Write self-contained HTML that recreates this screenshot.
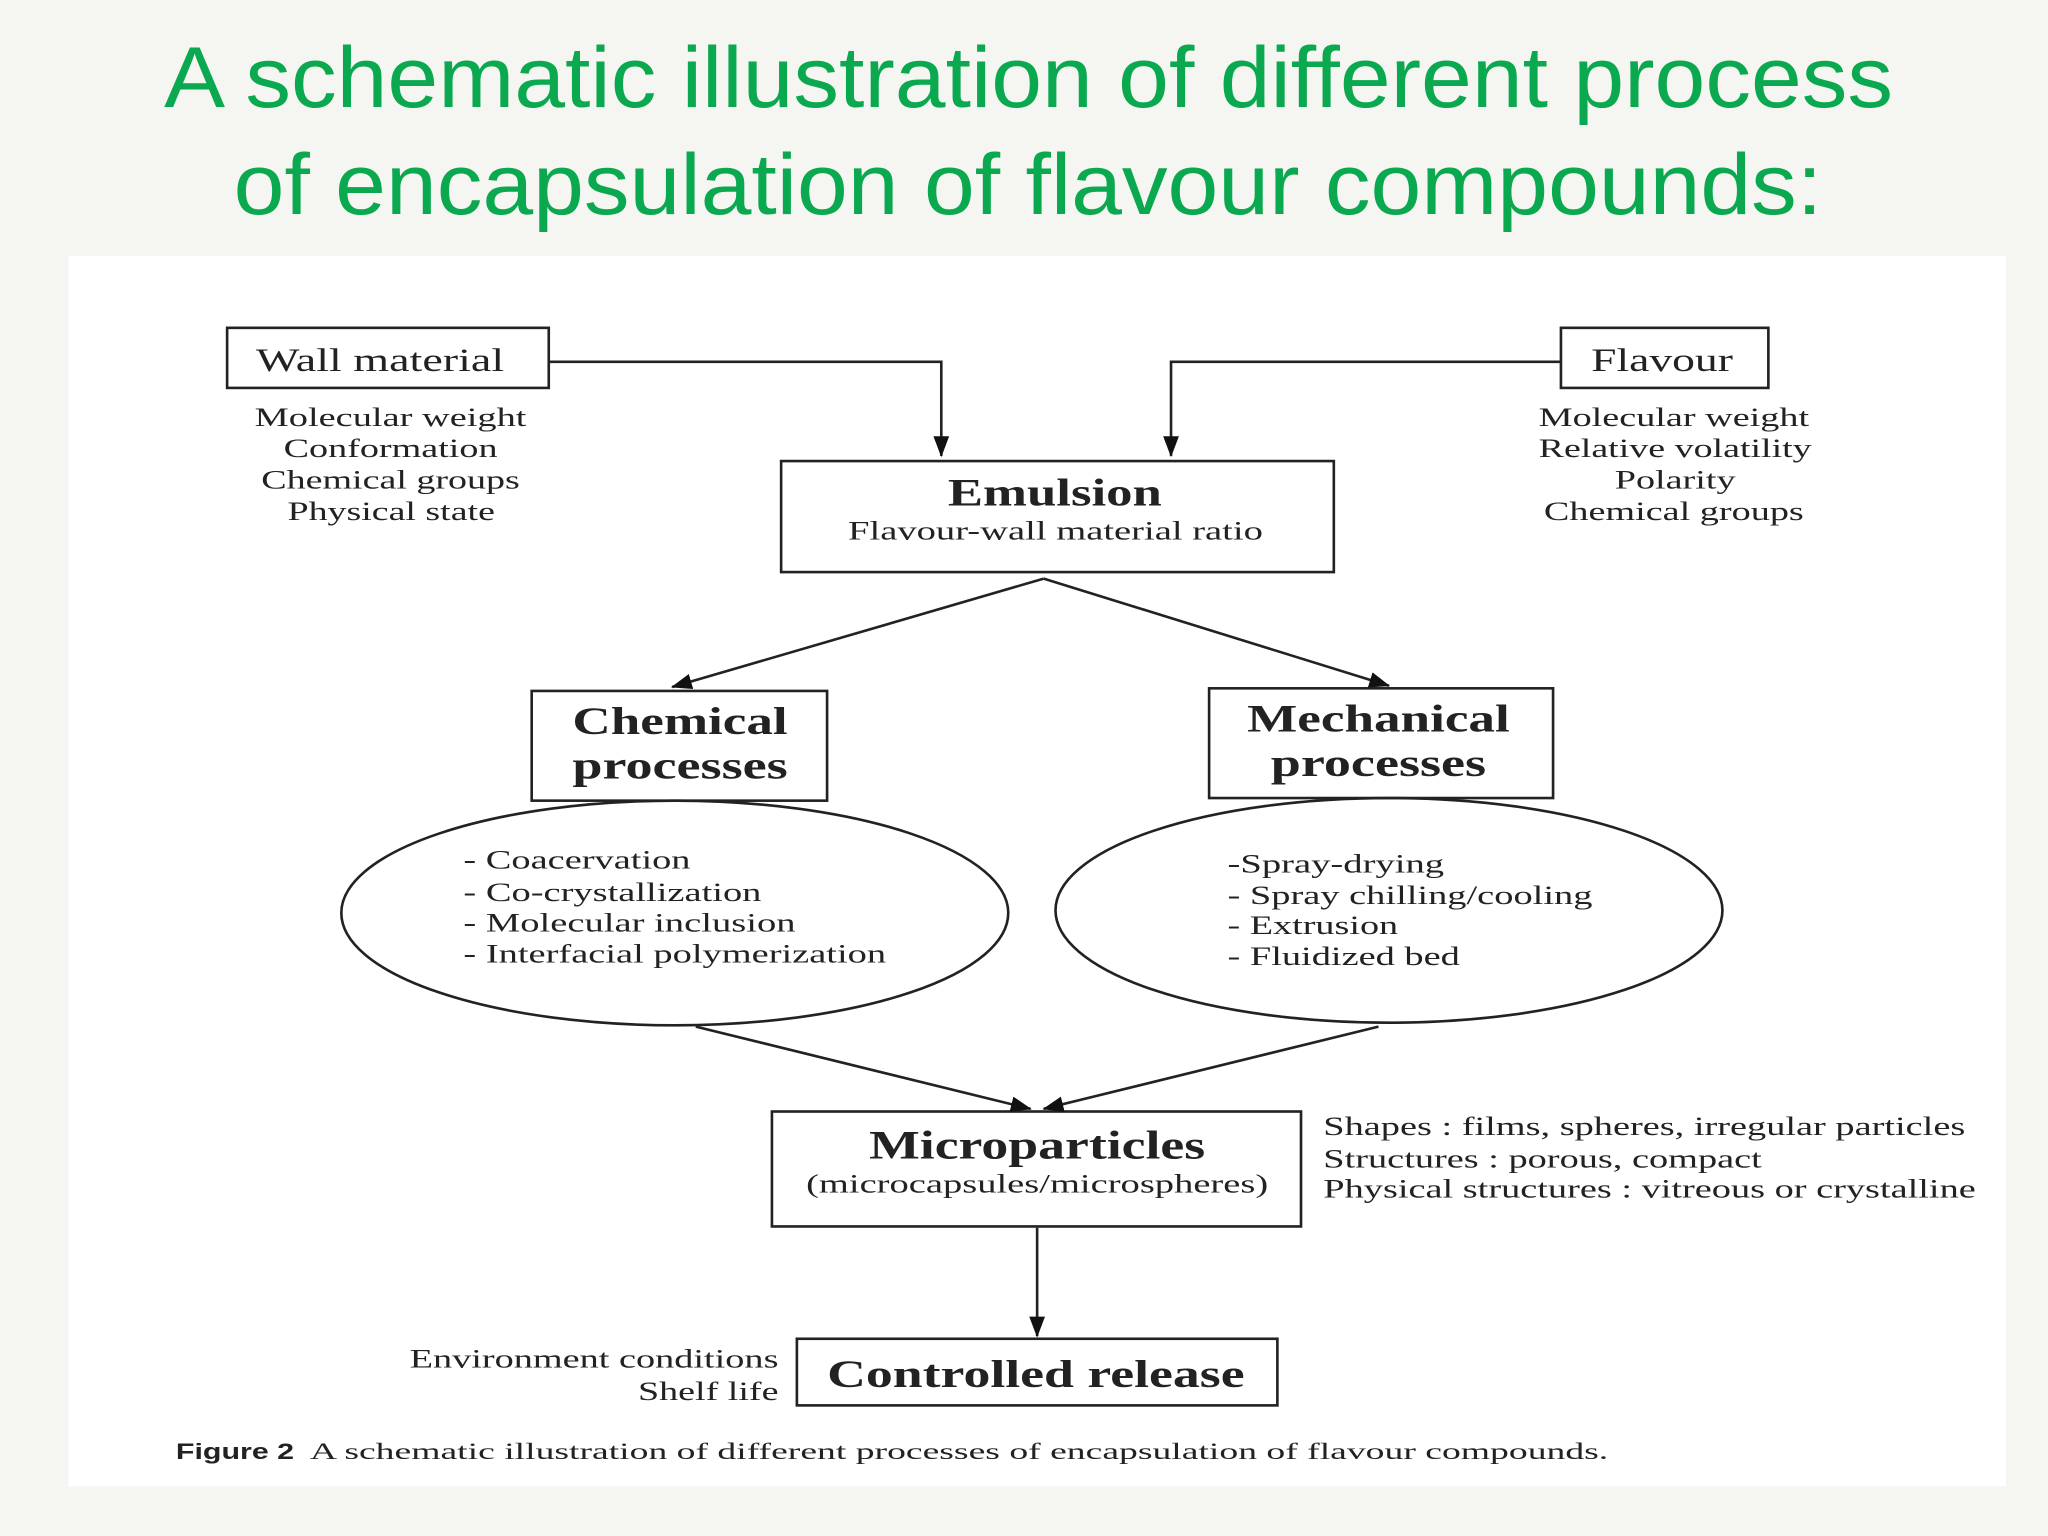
<!DOCTYPE html>
<html><head><meta charset="utf-8"><style>
html,body{margin:0;padding:0;background:#f5f5f2;}
svg{display:block;}
</style></head><body>
<svg width="2048" height="1536" viewBox="0 0 1560 1176" preserveAspectRatio="none" xmlns="http://www.w3.org/2000/svg">
<defs>
<marker id="b" viewBox="0 0 16 16" markerWidth="16" markerHeight="16" refX="15" refY="8" orient="auto" markerUnits="userSpaceOnUse"><path d="M0,2 L16,8 L0,14 z" fill="#111"/></marker></defs>
<rect width="1560" height="1176" fill="#f5f5f2"/>
<text x="125" y="82" textLength="1317" lengthAdjust="spacingAndGlyphs" font-family="Liberation Sans, sans-serif" font-size="66" fill="#0aa84f">A schematic illustration of different process</text>
<text x="178" y="164" textLength="1210" lengthAdjust="spacingAndGlyphs" font-family="Liberation Sans, sans-serif" font-size="66" fill="#0aa84f">of encapsulation of flavour compounds:</text>
<rect x="52" y="196" width="1476" height="942" fill="#fff"/>
<g font-family="Liberation Serif, serif" fill="#222" stroke="#222" stroke-width="2">
<g fill="none">
<rect x="173" y="251" width="245" height="46"/>
<rect x="1189" y="251" width="158" height="46"/>
<rect x="595" y="353" width="421" height="85"/>
<rect x="405" y="529" width="225" height="84"/>
<rect x="921" y="527" width="262" height="84"/>
<ellipse cx="514" cy="699" rx="254" ry="86"/>
<ellipse cx="1058" cy="697" rx="254" ry="86"/>
<rect x="588" y="851" width="403" height="88"/>
<rect x="607" y="1025" width="366" height="51"/>
<polyline points="418,277 717,277 717,349" marker-end="url(#b)"/>
<polyline points="1189,277 892,277 892,349" marker-end="url(#b)"/>
<line x1="795" y1="443" x2="512" y2="526" marker-end="url(#b)"/>
<line x1="795" y1="443" x2="1058" y2="525" marker-end="url(#b)"/>
<line x1="530" y1="786" x2="785" y2="849" marker-end="url(#b)"/>
<line x1="1050" y1="786" x2="795" y2="849" marker-end="url(#b)"/>
<line x1="790" y1="940" x2="790" y2="1023" marker-end="url(#b)"/>
</g>
<g stroke="none" lengthAdjust="spacingAndGlyphs">
<text x="195" y="284" font-size="25" textLength="189" lengthAdjust="spacingAndGlyphs">Wall material</text>
<text x="1212" y="284" font-size="25" textLength="108" lengthAdjust="spacingAndGlyphs">Flavour</text>
<text x="194" y="326" font-size="20" textLength="207" lengthAdjust="spacingAndGlyphs">Molecular weight</text>
<text x="216" y="350" font-size="20" textLength="163" lengthAdjust="spacingAndGlyphs">Conformation</text>
<text x="199" y="374" font-size="20" textLength="197" lengthAdjust="spacingAndGlyphs">Chemical groups</text>
<text x="219" y="398" font-size="20" textLength="158" lengthAdjust="spacingAndGlyphs">Physical state</text>
<text x="1172" y="326" font-size="20" textLength="206" lengthAdjust="spacingAndGlyphs">Molecular weight</text>
<text x="1172" y="350" font-size="20" textLength="208" lengthAdjust="spacingAndGlyphs">Relative volatility</text>
<text x="1230" y="374" font-size="20" textLength="92" lengthAdjust="spacingAndGlyphs">Polarity</text>
<text x="1176" y="398" font-size="20" textLength="198" lengthAdjust="spacingAndGlyphs">Chemical groups</text>
<text x="722" y="387" font-size="30" font-weight="bold" textLength="163" lengthAdjust="spacingAndGlyphs">Emulsion</text>
<text x="646" y="413" font-size="20" textLength="316" lengthAdjust="spacingAndGlyphs">Flavour-wall material ratio</text>
<text x="436" y="562" font-size="30" font-weight="bold" textLength="164" lengthAdjust="spacingAndGlyphs">Chemical</text>
<text x="436" y="596" font-size="30" font-weight="bold" textLength="164" lengthAdjust="spacingAndGlyphs">processes</text>
<text x="950" y="560" font-size="30" font-weight="bold" textLength="200" lengthAdjust="spacingAndGlyphs">Mechanical</text>
<text x="968" y="594" font-size="30" font-weight="bold" textLength="164" lengthAdjust="spacingAndGlyphs">processes</text>
<text x="662" y="887" font-size="31" font-weight="bold" textLength="256" lengthAdjust="spacingAndGlyphs">Microparticles</text>
<text x="614" y="913" font-size="20" textLength="352" lengthAdjust="spacingAndGlyphs">(microcapsules/microspheres)</text>
<text x="630" y="1062" font-size="30" font-weight="bold" textLength="318" lengthAdjust="spacingAndGlyphs">Controlled release</text>
<text x="353" y="665" font-size="20" textLength="173" lengthAdjust="spacingAndGlyphs">- Coacervation</text>
<text x="353" y="690" font-size="20" textLength="227" lengthAdjust="spacingAndGlyphs">- Co-crystallization</text>
<text x="353" y="713" font-size="20" textLength="253" lengthAdjust="spacingAndGlyphs">- Molecular inclusion</text>
<text x="353" y="737" font-size="20" textLength="322" lengthAdjust="spacingAndGlyphs">- Interfacial polymerization</text>
<text x="935" y="668" font-size="20" textLength="165" lengthAdjust="spacingAndGlyphs">-Spray-drying</text>
<text x="935" y="692" font-size="20" textLength="278" lengthAdjust="spacingAndGlyphs">- Spray chilling/cooling</text>
<text x="935" y="715" font-size="20" textLength="130" lengthAdjust="spacingAndGlyphs">- Extrusion</text>
<text x="935" y="739" font-size="20" textLength="177" lengthAdjust="spacingAndGlyphs">- Fluidized bed</text>
<text x="1008" y="869" font-size="20" textLength="489" lengthAdjust="spacingAndGlyphs">Shapes : films, spheres, irregular particles</text>
<text x="1008" y="894" font-size="20" textLength="334" lengthAdjust="spacingAndGlyphs">Structures : porous, compact</text>
<text x="1008" y="917" font-size="20" textLength="497" lengthAdjust="spacingAndGlyphs">Physical structures : vitreous or crystalline</text>
<text x="312" y="1047" font-size="20" textLength="281" lengthAdjust="spacingAndGlyphs">Environment conditions</text>
<text x="486" y="1072" font-size="20" textLength="107" lengthAdjust="spacingAndGlyphs">Shelf life</text>
<text x="134" y="1117" font-size="17" font-family="Liberation Sans, sans-serif" font-weight="bold" textLength="90" lengthAdjust="spacingAndGlyphs">Figure 2</text>
<text x="236" y="1117" font-size="18" textLength="989" lengthAdjust="spacingAndGlyphs">A schematic illustration of different processes of encapsulation of flavour compounds.</text>
</g>
</g>
</svg>
</body></html>
